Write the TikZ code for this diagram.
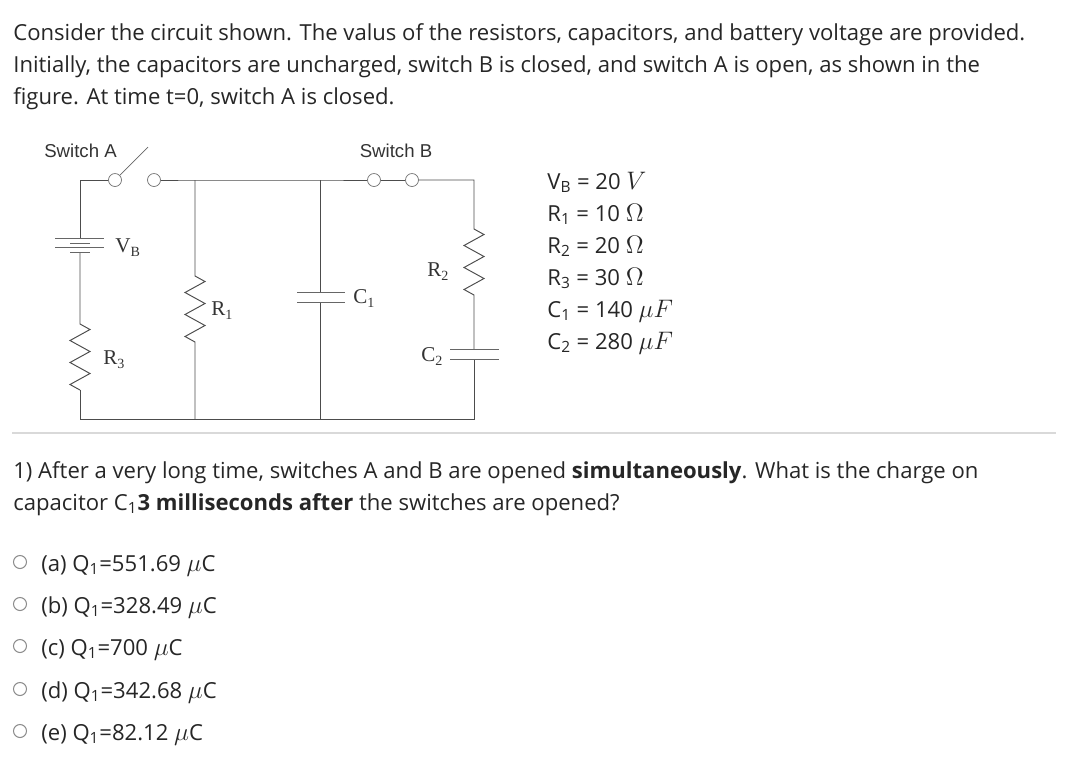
\documentclass[tikz,border=0pt]{standalone}
\usepackage{amsmath, amssymb}
\usepackage{fontspec}
\setmainfont{Open Sans}
\newfontfamily\labfont{Liberation Sans}
\newfontfamily\circfont{Liberation Serif}
\usetikzlibrary{positioning}
\newcommand{\zig}{-- ++(10,5.5) -- ++(-20,11) -- ++(20,11) -- ++(-20,11) -- ++(20,11) -- ++(-20,11) -- ++(10,5.5)}
\newcommand{\lab}[2]{#1\raisebox{-0.45ex}{\fontsize{8}{9}\selectfont #2}}
\newcommand{\mth}[1]{{\fontsize{14.4}{14}\selectfont$#1$}}
\tikzset{
	body/.style={anchor=base west, inner sep=0pt, text=black!85, font=\fontsize{12.57}{14}\selectfont},
	swlabel/.style={anchor=base, inner sep=0pt, text=black!80, font=\labfont\fontsize{10.6}{12}\selectfont},
	partlabel/.style={anchor=base west, inner sep=0pt, text=black!80, font=\circfont\fontsize{12}{12}\selectfont},
	terminal/.style={circle, draw=black!55, fill=white, inner sep=0pt, minimum size=13*0.5692pt},
	radio/.style={circle, draw=black!45, line width=0.6pt, inner sep=0pt, minimum size=13*0.5692pt},
	wire/.style={draw=black!70, line width=0.55pt},
	plate/.style={draw=black!60, line width=0.55pt}
}
\begin{document}
\begin{tikzpicture}[x=0.02cm,y=-0.02cm]
	\useasboundingbox (0,0) rectangle (1068,762);
	\node[body] (line1) at (13,40) {Consider the circuit shown. The valus of the resistors, capacitors, and battery voltage are provided.};
	\node[body] (line2) at (13,72) {Initially, the capacitors are uncharged, switch B is closed, and switch A is open, as shown in the};
	\node[body] (line3) at (13,104) {figure. At time t=0, switch A is closed.};
	% corners and terminals
	\coordinate (tl) at (80,180);
	\coordinate (tr) at (474,180);
	\coordinate (bl) at (80,419);
	\coordinate (br) at (474,419);
	\coordinate (topR1) at (195,180);
	\coordinate (topC1) at (320.5,180);
	\coordinate (botR1) at (195,419);
	\coordinate (botC1) at (320.5,419);
	\coordinate (armA) at (148,147);
	\node[terminal] (swA1) at (115,180) {};
	\node[terminal] (swA2) at (154,180) {};
	\node[terminal] (swB1) at (374,180) {};
	\node[terminal] (swB2) at (412,180) {};
	\node[swlabel] (labA) at (80.5,157) {Switch A};
	\node[swlabel] (labB) at (396,157) {Switch B};
	% wires
	\draw[wire] (swA1) -- (tl) -- (80,238);
	\draw[wire] (swA2) -- (topR1) -- (topC1) -- (swB1);
	\draw[wire] (swB1) -- (swB2);
	\draw[wire] (swB2) -- (tr) -- (474,229) \zig -- (474,349);
	\draw[wire] (474,359) -- (br) -- (bl) -- (80,390);
	\draw[wire] (80,252) -- (80,324) \zig;
	\draw[wire] (topR1) -- (195,276) \zig -- (botR1);
	\draw[wire] (topC1) -- (320.5,292);
	\draw[wire] (320.5,302) -- (botC1);
	\draw[plate, line width=0.4pt] (swA1) -- (armA);
	% battery
	\draw[plate] (55,238) -- (104,238);
	\draw[plate] (70,243) -- (90,243);
	\draw[plate] (55,247) -- (104,247);
	\draw[plate] (70,252) -- (90,252);
	% capacitors
	\draw[plate] (297,292) -- (345,292);
	\draw[plate] (297,302) -- (345,302);
	\draw[plate] (450,349) -- (499,349);
	\draw[plate] (450,359) -- (499,359);
	% part labels
	\node[partlabel] (labVB) at (115,252) {\lab{V}{B}};
	\node[partlabel] (labR3) at (103,364) {\lab{R}{3}};
	\node[partlabel] (labR1) at (211,315) {\lab{R}{1}};
	\node[partlabel] (labC1) at (353,303) {\lab{C}{1}};
	\node[partlabel] (labR2) at (427,276) {\lab{R}{2}};
	\node[partlabel] (labC2) at (421,361) {\lab{C}{2}};
	% values
	\node[body] (valVB) at (547,189) {V\textsubscript{B} = 20 \mth{V}};
	\node[body] (valR1) at (547,221) {R\textsubscript{1} = 10 \mth{\Omega}};
	\node[body] (valR2) at (547,253) {R\textsubscript{2} = 20 \mth{\Omega}};
	\node[body] (valR3) at (547,285) {R\textsubscript{3} = 30 \mth{\Omega}};
	\node[body] (valC1) at (547,317) {C\textsubscript{1} = 140 \mth{\mu F}};
	\node[body] (valC2) at (547,349) {C\textsubscript{2} = 280 \mth{\mu F}};
	\draw[black!15, line width=0.6pt] (12,433) -- (1056,433);
	\node[body] (ask1) at (13,478) {1) After a very long time, switches A and B are opened \textbf{simultaneously}. What is the charge on};
	\node[body] (ask2) at (13,510) {capacitor C\textsubscript{1}\textbf{3 milliseconds after} the switches are opened?};
	% answers
	\foreach \ypos/\base/\name/\answer in {562/571/a/{(a) Q\textsubscript{1}=551.69 \mth{\mu}C}, 604/613/b/{(b) Q\textsubscript{1}=328.49 \mth{\mu}C}, 646/655/c/{(c) Q\textsubscript{1}=700 \mth{\mu}C}, 689/698/d/{(d) Q\textsubscript{1}=342.68 \mth{\mu}C}, 731/740/e/{(e) Q\textsubscript{1}=82.12 \mth{\mu}C}} {
		\node[radio] (radio\name) at (20,\ypos) {};
		\node[body] (opt\name) at (41,\base) {\answer};
	}
\end{tikzpicture}
\end{document}
